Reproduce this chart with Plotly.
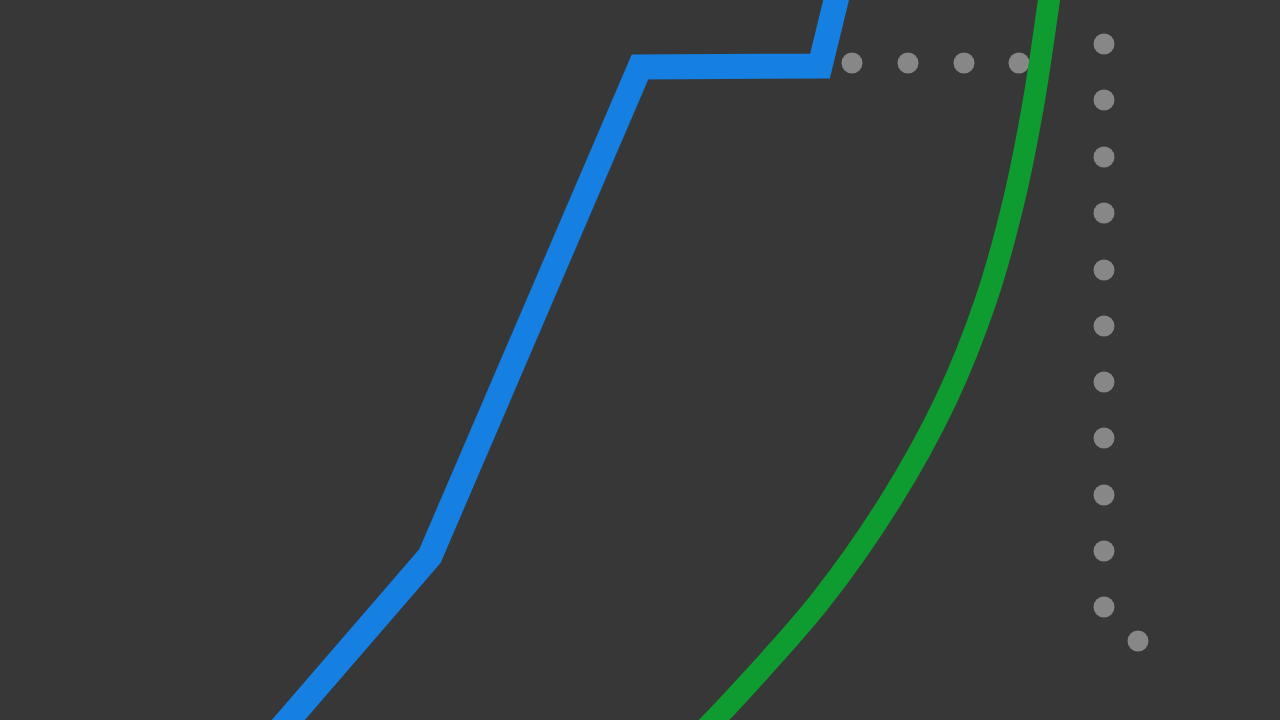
import plotly.graph_objects as go

# blue polyline (screen-like coords, y grows downwards)
blue_x = [271, 430, 640, 820, 841]
blue_y = [740, 556, 67, 66, -20]

# green curve
green_x = [1052, 1049, 1034, 1014, 986, 946, 891, 821, 733, 714, 695]
green_y = [-20, 0, 100, 200, 300, 400, 500, 600, 700, 720, 740]

# grey dotted path
dot_x = [852, 908, 964, 1019,
         1104, 1104, 1104, 1104, 1104, 1104, 1104, 1104, 1104, 1104, 1104,
         1138]
dot_y = [63, 63, 63, 63,
         44, 100, 157, 213, 270, 326, 382, 438, 495, 551, 607,
         641]

bg = '#373737'

fig = go.Figure()

fig.add_trace(go.Scatter(x=dot_x, y=dot_y, mode='markers',
                         marker={'size': 21, 'color': '#878787'},
                         showlegend=False, hoverinfo='skip'))

fig.add_trace(go.Scatter(x=blue_x, y=blue_y, mode='lines',
                         line={'color': '#1580e2', 'width': 25},
                         showlegend=False, hoverinfo='skip'))

fig.add_trace(go.Scatter(x=green_x, y=green_y, mode='lines',
                         line={'color': '#0e9b30', 'width': 22,
                               'shape': 'spline', 'smoothing': 1.0},
                         showlegend=False, hoverinfo='skip'))

fig.update_xaxes(range=[0, 1280], visible=False, showgrid=False, zeroline=False)
fig.update_yaxes(range=[720, 0], visible=False, showgrid=False, zeroline=False)

fig.update_layout(
    width=1280, height=720,
    margin={'l': 0, 'r': 0, 't': 0, 'b': 0},
    paper_bgcolor=bg, plot_bgcolor=bg)

# kill the default body margin so the plot sits flush in the window
fig.write_html("out.html",
               config={'displayModeBar': False},
               post_script="document.body.style.margin='0';"
                           "document.body.style.background='%s';" % bg)
